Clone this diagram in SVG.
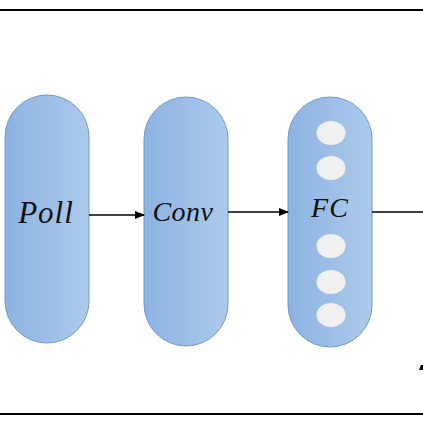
<svg xmlns="http://www.w3.org/2000/svg" width="423" height="423" viewBox="0 0 423 423">
<defs>
<linearGradient id="g" x1="0" y1="0" x2="1" y2="0">
<stop offset="0" stop-color="#8cb3e1"/>
<stop offset="1" stop-color="#adcaeb"/>
</linearGradient>
<marker id="ah" markerWidth="10" markerHeight="8" refX="9" refY="4" orient="auto" markerUnits="userSpaceOnUse">
<path d="M0,0 L10,4 L0,8 Z" fill="#000"/>
</marker>
<style>
.pill{fill:url(#g);stroke:#6e9ad0;stroke-width:1}
.lbl{font-family:"Liberation Serif",serif;font-style:italic;fill:#111}
.dot{fill:#f0f0f0}
.rule{stroke:#000;stroke-width:2}
.conn{stroke:#000;stroke-width:1.6;fill:none}
</style>
</defs>
<rect width="423" height="423" fill="#fff"/>
<line class="rule" x1="0" y1="10" x2="423" y2="10"/>
<line class="rule" x1="0" y1="414" x2="423" y2="414"/>
<g id="poll">
<rect class="pill" x="5" y="95" width="84" height="248" rx="42" ry="42"/>
<text class="lbl" x="46" y="223" font-size="31" text-anchor="middle" letter-spacing="1">Poll</text>
</g>
<g id="conv">
<rect class="pill" x="144" y="97" width="84" height="249" rx="42" ry="42"/>
<text class="lbl" x="183" y="221" font-size="28" text-anchor="middle" letter-spacing="0.5">Conv</text>
</g>
<g id="fc">
<rect class="pill" x="288" y="97" width="84" height="250" rx="42" ry="42"/>
<ellipse class="dot" cx="331" cy="133" rx="14.5" ry="12"/>
<ellipse class="dot" cx="331" cy="168" rx="14.5" ry="12"/>
<ellipse class="dot" cx="331" cy="246" rx="14.5" ry="12"/>
<ellipse class="dot" cx="331" cy="282" rx="14.5" ry="12"/>
<ellipse class="dot" cx="331" cy="315" rx="14.5" ry="12"/>
<text class="lbl" x="330" y="217" font-size="28" text-anchor="middle" letter-spacing="1">FC</text>
</g>
<g id="connectors">
<line class="conn" x1="89" y1="215" x2="144" y2="215" marker-end="url(#ah)"/>
<line class="conn" x1="228" y1="212" x2="288" y2="212" marker-end="url(#ah)"/>
<line class="conn" x1="372" y1="212" x2="423" y2="212"/>
<path d="M419,370 L421,365 L423,365 L423,370 Z" fill="#000"/>
</g>
</svg>
